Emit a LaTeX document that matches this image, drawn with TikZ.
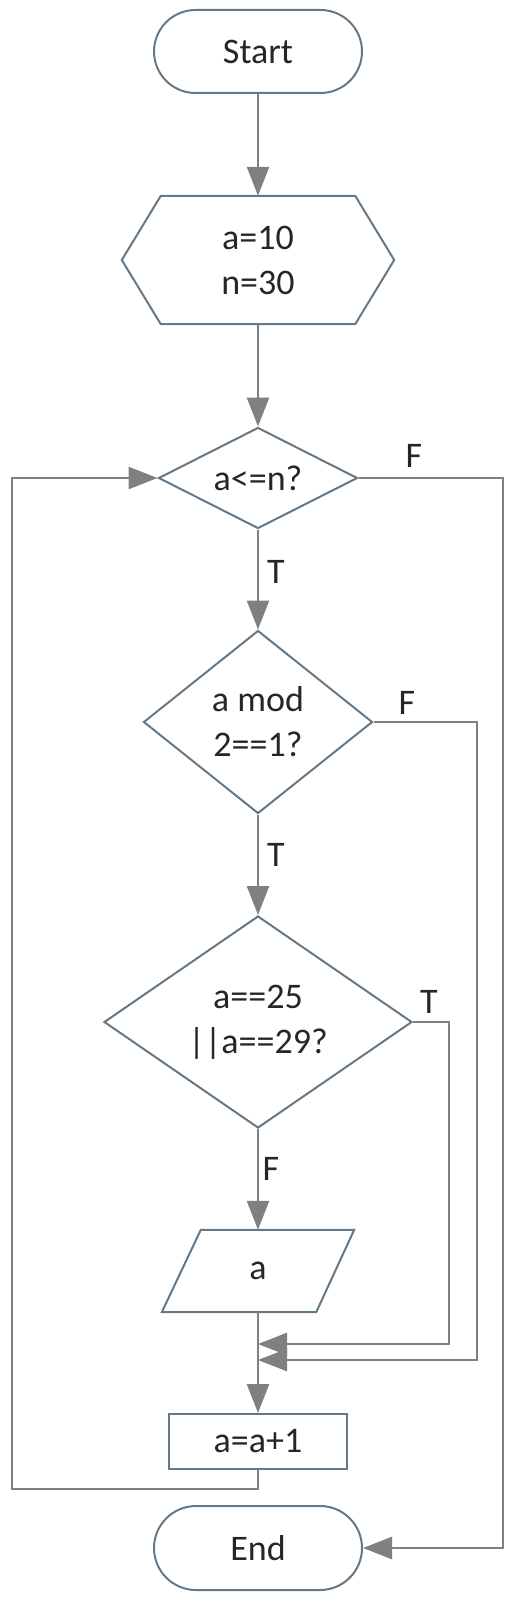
\documentclass[tikz,border=0pt]{standalone}
\usepackage{fontspec}
\setmainfont{Carlito}
\usetikzlibrary{shapes.geometric,shapes.misc,arrows.meta}
\definecolor{nodeline}{RGB}{100,120,135}
\definecolor{conn}{RGB}{128,128,128}
\definecolor{txt}{RGB}{38,38,38}
\begin{document}
\begin{tikzpicture}[x=1pt,y=-1pt,
  every node/.style={text=txt,font=\fontsize{36}{45}\selectfont},
  term/.style={rounded rectangle,draw=nodeline,line width=2pt,minimum width=208pt,minimum height=83pt,inner sep=0pt},
  plainbox/.style={rectangle,draw=none,inner sep=0pt,align=center},
  procbox/.style={rectangle,draw=nodeline,line width=2pt,inner sep=0pt,minimum width=178pt,minimum height=55pt},
  decision/.style={diamond,draw=nodeline,line width=2pt,inner sep=0pt,align=center},
  outline/.style={draw=nodeline,line width=2pt,line join=miter},
  conline/.style={draw=conn,line width=2.5pt},
  arr/.style={conline,-{Triangle[length=29pt,width=22pt]}},
  lbl/.style={inner sep=0pt}
]
\useasboundingbox (0,0) rectangle (514,1600);

\node[term] (start) at (258,51.5) {Start};
\node[plainbox,minimum width=272pt,minimum height=128pt] (init) at (258,260) {a=10\\n=30};
\draw[outline] ([xshift=39pt]init.north west) -- ([xshift=-39pt]init.north east) -- (init.east)
  -- ([xshift=-39pt]init.south east) -- ([xshift=39pt]init.south west) -- (init.west) -- cycle;
\node[decision,aspect=1.97,minimum width=199pt,minimum height=101pt] (d1) at (258,478) {a<=n?};
\node[decision,aspect=1.25,minimum width=229pt,minimum height=183pt] (d2) at (258,722) {a mod\\2==1?};
\node[decision,aspect=1.45,minimum width=308pt,minimum height=212pt] (d3) at (258,1022) {a==25\\||a==29?};
\node[plainbox,minimum width=192pt,minimum height=82pt] (out) at (258,1271) {a};
\draw[outline] ([xshift=39pt]out.north west) -- (out.north east) -- ([xshift=-38pt]out.south east)
  -- (out.south west) -- cycle;
\node[procbox] (inc) at (258,1441.5) {a=a+1};
\node[term,minimum height=84pt] (end) at (258,1548) {End};

\coordinate (d3r) at (449,1022);
\coordinate (d3rb) at (449,1344);
\coordinate (m1) at (258,1344);
\coordinate (d2r) at (477,722);
\coordinate (d2rb) at (477,1360);
\coordinate (m2) at (258,1360);
\coordinate (d1r) at (503,478);
\coordinate (d1rb) at (503,1548);
\coordinate (lb) at (258,1489);
\coordinate (lbl1) at (12,1489);
\coordinate (lbt) at (12,478);

\draw[arr] (start.south) -- (init.north);
\draw[arr] (init.south) -- (d1.north);
\draw[arr] (d1.south) -- (d2.north);
\draw[arr] (d2.south) -- (d3.north);
\draw[arr] (d3.south) -- (out.north);
\draw[arr] (out.south) -- (inc.north);
\draw[arr] (d3.east) -- (d3r) -- (d3rb) -- (m1);
\draw[arr] (d2.east) -- (d2r) -- (d2rb) -- (m2);
\draw[arr] (d1.east) -- (d1r) -- (d1rb) -- (end.east);
\draw[arr] (inc.south) -- (lb) -- (lbl1) -- (lbt) -- (d1.west);

\node[lbl] (t1) at (276,572) {T};
\node[lbl] (t2) at (276,855) {T};
\node[lbl] (f3) at (271,1169) {F};
\node[lbl] (t3) at (429,1002) {T};
\node[lbl] (f2) at (407,703) {F};
\node[lbl] (f1) at (414,456) {F};
\end{tikzpicture}
\end{document}
